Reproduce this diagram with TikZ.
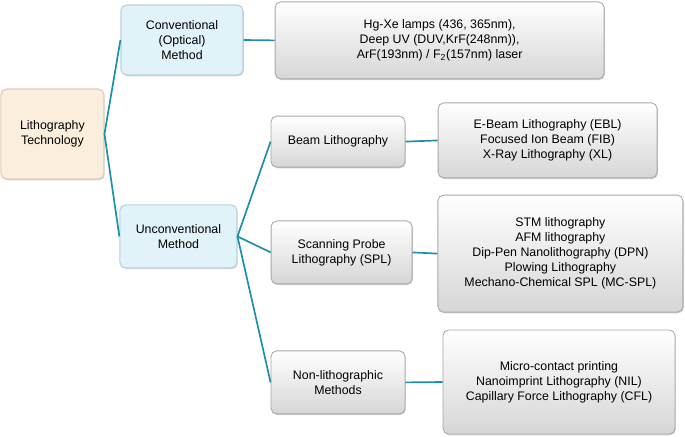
\documentclass[tikz,border=0pt]{standalone}
\usepackage{fontspec}
\setmainfont{Liberation Sans}
\definecolor{LinkTeal}{HTML}{1C90A8}
\definecolor{RootFill}{HTML}{FCEEDC}
\definecolor{RootEdge}{HTML}{E2CCB4}
\definecolor{MethFill}{HTML}{E1F2F8}
\definecolor{MethEdge}{HTML}{B4D4E0}
\definecolor{LeafEdge}{HTML}{A8A8A8}
\usepackage{tikz}
\usetikzlibrary{positioning, shadows}

\tikzset{
  box/.style={rounded corners=4pt, align=center, inner sep=2pt,
    font=\fontsize{8.8}{10.7}\selectfont,
    drop shadow={opacity=0.35, shadow xshift=0.6pt, shadow yshift=-0.9pt}},
  rootbox/.style={box, draw=RootEdge, line width=0.8pt, fill=RootFill},
  methbox/.style={box, draw=MethEdge, line width=0.8pt, fill=MethFill},
  greybox/.style={box, draw=LeafEdge, line width=0.6pt,
    top color=white, bottom color=black!16},
  link/.style={LinkTeal, line width=1.2pt}
}

\begin{document}
\begin{tikzpicture}
  \useasboundingbox (0,0) rectangle (17.125,-10.9);
  % Root
  \node[rootbox, minimum width=2.575cm, minimum height=2.25cm] (root) at (1.31,-3.35)
    {Lithography\\Technology};
  % Methods
  \node[methbox, minimum width=3.05cm, minimum height=1.75cm] (conv) at (4.55,-1.0)
    {Conventional\\(Optical)\\Method};
  \node[methbox, minimum width=2.925cm, minimum height=1.575cm] (unconv) at (4.46,-5.91)
    {Unconventional\\Method};
  % Unconventional branches
  \node[greybox, minimum width=3.35cm, minimum height=1.275cm] (beam) at (8.45,-3.54)
    {Beam Lithography};
  \node[greybox, minimum width=3.525cm, minimum height=1.575cm] (spl) at (8.54,-6.31)
    {Scanning Probe\\Lithography (SPL)};
  \node[greybox, minimum width=3.35cm, minimum height=1.575cm] (nonlitho) at (8.45,-9.56)
    {Non-lithographic\\Methods};
  % Leaves
  \node[greybox, minimum width=8.225cm, minimum height=1.925cm] (convleaf) at (10.99,-1.01)
    {Hg-Xe lamps (436, 365nm),\\Deep UV (DUV,KrF(248nm)),\\ArF(193nm) / F\textsubscript{2}(157nm) laser};
  \node[greybox, minimum width=5.475cm, minimum height=1.875cm] (beamleaf) at (13.69,-3.51)
    {E-Beam Lithography (EBL)\\Focused Ion Beam (FIB)\\X-Ray Lithography (XL)};
  \node[greybox, minimum width=6.125cm, minimum height=2.925cm] (splleaf) at (14.01,-6.34)
    {STM lithography\\AFM lithography\\Dip-Pen Nanolithography (DPN)\\Plowing Lithography\\Mechano-Chemical SPL (MC-SPL)};
  \node[greybox, minimum width=5.8cm, minimum height=2.6cm] (nonleaf) at (13.975,-9.55)
    {Micro-contact printing\\Nanoimprint Lithography (NIL)\\Capillary Force Lithography (CFL)};
  % Connectors
  \draw[link] (root.east) -- (conv.west);
  \draw[link] (root.east) -- (unconv.west);
  \draw[link] (conv.east) -- (convleaf.west);
  \foreach \kid in {beam, spl, nonlitho}
    \draw[link] (unconv.east) -- (\kid.west);
  \draw[link] (beam.east) -- (beamleaf.west);
  \draw[link] (spl.east) -- (splleaf.west);
  \draw[link] (nonlitho.east) -- (nonleaf.west);
\end{tikzpicture}
\end{document}
